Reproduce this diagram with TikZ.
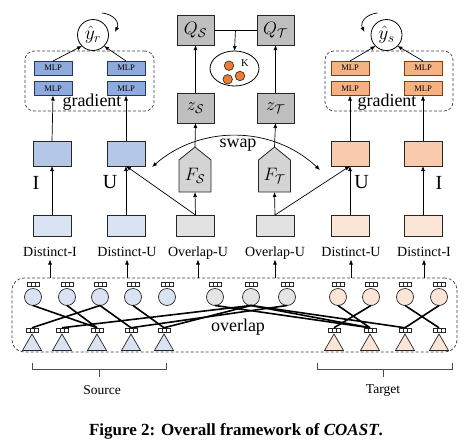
\RequirePackage{fix-cm}
\documentclass[tikz,border=0pt]{standalone}
\usepackage{fontspec}
\setmainfont{Liberation Serif}
\usetikzlibrary{arrows.meta,calc,shapes.geometric}
\definecolor{mlpB}{HTML}{8FAADC}
\definecolor{mlpBd}{HTML}{203864}
\definecolor{boxB}{HTML}{B4C7E7}
\definecolor{lightB}{HTML}{DAE3F3}
\definecolor{mlpO}{HTML}{F4B183}
\definecolor{mlpOd}{HTML}{843C0C}
\definecolor{boxO}{HTML}{F8CBAD}
\definecolor{lightO}{HTML}{FBE5D6}
\definecolor{grayQ}{HTML}{BFBFBF}
\definecolor{grayF}{HTML}{D4D4D4}
\definecolor{grayO}{HTML}{E2E2E2}
\definecolor{grayC}{HTML}{E4E4E4}
\definecolor{dotO}{HTML}{ED7D31}
\begin{document}
\begin{tikzpicture}[x=1pt,y=-1pt,
  every node/.style={inner sep=0pt,outer sep=0pt},
  arr/.style={-{Latex[length=5pt,width=4pt]}, line width=0.7pt},
  arrboth/.style={{Latex[length=5pt,width=4pt]}-{Latex[length=5pt,width=4pt]}, line width=0.7pt},
  mlpb/.style={draw=mlpBd, fill=mlpB, line width=0.9pt, minimum width=38pt, minimum height=14pt, font=\fontsize{8.5}{9}\selectfont},
  mlpo/.style={draw=mlpOd, fill=mlpO, line width=0.9pt, minimum width=38pt, minimum height=14pt, font=\fontsize{8.5}{9}\selectfont},
  dashbox/.style={draw=black!75, dash pattern=on 3pt off 2pt, rounded corners=9pt, line width=0.7pt},
  bigbox/.style={draw=black!85, line width=0.8pt, minimum width=38pt, minimum height=25pt},
  smallbox/.style={draw=black!85, line width=0.8pt, minimum width=38pt, minimum height=21pt},
  gbox/.style={draw=black!85, fill=grayQ, line width=0.8pt, minimum width=37pt, minimum height=30pt, font=\fontsize{18}{20}\selectfont},
  labtxt/.style={font=\fontsize{14}{16}\selectfont, text height=10pt, text depth=3pt},
  bigtxt/.style={font=\fontsize{20}{22}\selectfont},
  gradtxt/.style={font=\fontsize{18}{20}\selectfont},
  mathtxt/.style={font=\fontsize{18}{20}\selectfont},
  yhat/.style={circle, draw=black, line width=0.8pt, minimum size=31pt, font=\fontsize{19.5}{22}\selectfont},
  usercirc/.style={circle, draw=black!85, line width=0.7pt, minimum size=17pt},
  itemtri/.style={regular polygon, regular polygon sides=3, draw=black!85, line width=0.7pt, minimum size=22pt},
  emb/.style={draw=black!85, fill=white, line width=0.5pt, minimum width=12pt, minimum height=4.5pt,
    path picture={\draw[line width=0.5pt]
      ($(path picture bounding box.north west)!0.3333!(path picture bounding box.north east)$) --
      ($(path picture bounding box.south west)!0.3333!(path picture bounding box.south east)$)
      ($(path picture bounding box.north west)!0.6667!(path picture bounding box.north east)$) --
      ($(path picture bounding box.south west)!0.6667!(path picture bounding box.south east)$);}},
  linkline/.style={line width=1.6pt, black},
  brace/.style={draw=black!70, line width=0.6pt},
]
\fill[white] (0,0) rectangle (474,445);
\useasboundingbox (0,0) rectangle (474,445);

% ---------- top: predictors ----------
\node[dashbox, minimum width=129pt, minimum height=60pt] (gL) at (89.5,81) {};
\node[dashbox, minimum width=128pt, minimum height=60pt] (gR) at (389,81) {};
\node[mlpb] (LA1) at (53,68) {MLP};
\node[mlpb] (LA2) at (53,88.5) {MLP};
\node[mlpb] (LB1) at (126,68) {MLP};
\node[mlpb] (LB2) at (126,88.5) {MLP};
\node[mlpo] (RA1) at (350,68) {MLP};
\node[mlpo] (RA2) at (350,88.5) {MLP};
\node[mlpo] (RB1) at (423,68) {MLP};
\node[mlpo] (RB2) at (423,88.5) {MLP};
\node[gradtxt] (gtL) at (92,102.5) {gradient};
\node[gradtxt] (gtR) at (387,102.5) {gradient};
\node[yhat] (yr) at (93,35) {$\hat{y}_r$};
\node[yhat] (ys) at (386.5,35) {$\hat{y}_s$};
\draw[arr] (LA1.north) -- (yr.south west);
\draw[arr] (LB1.north) -- (yr.south east);
\draw[arr] (RA1.north) -- (ys.south west);
\draw[arr] (RB1.north) -- (ys.south east);
\draw[arr] ($(yr)+(9,-22)$) .. controls ($(yr)+(20,-21)$) and ($(yr)+(27,-13)$) .. ($(yr)+(22,-3)$);
\draw[arr] ($(ys)+(-9,-22)$) .. controls ($(ys)+(-20,-21)$) and ($(ys)+(-27,-13)$) .. ($(ys)+(-22,-3)$);

% ---------- representation boxes ----------
\node[bigbox, fill=boxB] (IL) at (52,153.5) {};
\node[bigbox, fill=boxB] (UL) at (126,153.5) {};
\node[bigbox, fill=boxO] (UR) at (350,153.5) {};
\node[bigbox, fill=boxO] (IR) at (423,153.5) {};
\draw[arr] (IL.north) -- (LA2.south);
\draw[arr] (UL.north) -- (LB2.south);
\draw[arr] (UR.north) -- (RA2.south);
\draw[arr] (IR.north) -- (RB2.south);
\node[bigtxt] (tIL) at (36,182.5) {I};
\node[bigtxt] (tUL) at (110,182.5) {U};
\node[bigtxt] (tUR) at (361.5,182.5) {U};
\node[bigtxt] (tIR) at (439,182.5) {I};

% ---------- input embeddings ----------
\node[smallbox, fill=lightB] (DIL) at (52,225.5) {};
\node[smallbox, fill=lightB] (DUL) at (126,225.5) {};
\node[smallbox, fill=grayO] (OS) at (195.5,225.5) {};
\node[smallbox, fill=grayO] (OT) at (275,225.5) {};
\node[smallbox, fill=lightO] (DUR) at (350,225.5) {};
\node[smallbox, fill=lightO] (DIR) at (423,225.5) {};
\node[labtxt] (lDIL) at (50,253) {Distinct-I};
\node[labtxt] (lDUL) at (127,253) {Distinct-U};
\node[labtxt] (lOS) at (198,253) {Overlap-U};
\node[labtxt] (lOT) at (275,253) {Overlap-U};
\node[labtxt] (lDUR) at (351,253) {Distinct-U};
\node[labtxt] (lDIR) at (424,253) {Distinct-I};
\draw[arr] (DIL.north) -- (IL.south);
\draw[arr] (DUL.north) -- (UL.south);
\draw[arr] (OS.north) -- (UL.south);
\draw[arr] (OT.north) -- (UR.south);
\draw[arr] (DUR.north) -- (UR.south);
\draw[arr] (DIR.north) -- (IR.south);

% ---------- F encoders ----------
\coordinate (FSc) at (195,176);
\coordinate (FTc) at (274.5,176);
\foreach \c in {FSc,FTc}{
  \draw[fill=grayF, draw=black!85, line width=0.8pt]
    ($(\c)+(-16,16)$) -- ($(\c)+(-16,-16)$) -- ($(\c)+(0,-29)$) -- ($(\c)+(16,-16)$) -- ($(\c)+(16,16)$) -- cycle;
}
\node[mathtxt, minimum width=32pt, minimum height=32pt] (FS) at (FSc) {$F_{\mathcal{S}}$};
\node[mathtxt, minimum width=32pt, minimum height=32pt] (FT) at (FTc) {$F_{\mathcal{T}}$};
\coordinate (FSa) at ($(FS.north)+(0,-13)$);
\coordinate (FTa) at ($(FT.north)+(0,-13)$);
\draw[arr] (OS.north) -- (FS.south);
\draw[arr] (OT.north) -- (FT.south);

% ---------- z, Q, clusters ----------
\node[gbox] (zS) at (195.5,108) {$z_{\mathcal{S}}$};
\node[gbox] (zT) at (275.5,108) {$z_{\mathcal{T}}$};
\node[gbox] (QS) at (195.5,30) {$Q_{\mathcal{S}}$};
\node[gbox] (QT) at (275.5,30) {$Q_{\mathcal{T}}$};
\draw[arr] (FSa) -- (zS.south);
\draw[arr] (FTa) -- (zT.south);
\draw[arr] (zS.north) -- (QS.south);
\draw[arr] (zT.north) -- (QT.south);
\node[ellipse, draw=black, line width=0.8pt, fill=white, minimum width=49pt, minimum height=35pt] (ell) at (234.5,68.5) {};
\draw[line width=0.7pt] (QS.east) -- (QT.west);
\coordinate (Qmid) at ($(QS.east)!0.5!(QT.west)$);
\draw[arr] (Qmid) -- (ell.north);
\node[circle, draw=black!80, fill=dotO, line width=0.7pt, minimum size=9.5pt] (d1) at (229,65.7) {};
\node[circle, draw=black!80, fill=dotO, line width=0.7pt, minimum size=9.5pt] (d2) at (227.7,79.3) {};
\node[circle, draw=black!80, fill=dotO, line width=0.7pt, minimum size=9.5pt] (d3) at (240,76) {};
\node[font=\fontsize{10.5}{12}\selectfont] (kK) at (245,63.5) {K};

% ---------- swap ----------
\coordinate (swL) at (152,167);
\coordinate (swR) at (320,170);
\draw[arrboth] (swL) .. controls (200,125) and (272,125) .. (swR);
\node[gradtxt] (swap) at (238,145) {swap};

% ---------- bottom graph ----------
\node[dashbox, rounded corners=12pt, minimum width=445pt, minimum height=74pt] (bot) at (234.5,315) {};
\foreach \n in {lDIL,lDUL,lOS,lOT,lDUR,lDIR}{
  \draw[arr] (\n.south |- bot.north) -- (\n.south);
}
\foreach \x/\c [count=\i] in {33/lightB,67/lightB,100/lightB,133/lightB,167/lightB,215/grayC,251/grayC,287/grayC,338/lightO,371/lightO,405/lightO,439/lightO}{
  \node[usercirc, fill=\c] (u\i) at (\x,297) {};
  \node[emb] (eu\i) at (\x,284) {};
}
\foreach \x/\c [count=\i] in {32/lightB,62/lightB,97/lightB,131/lightB,164/lightB,334/lightO,370/lightO,405/lightO,439/lightO}{
  \node[itemtri, fill=\c] (t\i) at (\x,345) {};
  \node[emb] (ei\i) at (\x,330) {};
}
\foreach \a/\b in {1/3,2/3,3/1,3/4,4/5,7/2,8/4,7/5,6/7,7/7,7/8,9/7,10/6,11/9,12/8}{
  \draw[linkline] (u\a.south) -- (ei\b.north);
}
\node[gradtxt] (ovl) at (238,327) {overlap};

% ---------- braces ----------
\coordinate (sb1) at (32,363);
\coordinate (sb2) at (166,363);
\coordinate (sbm) at (99,377);
\draw[brace] (sb1) -- (sb1 |- 0,369) -- (sb2 |- 0,369) -- (sb2);
\draw[brace] (sbm |- 0,369) -- (sbm);
\coordinate (tb1) at (317,363);
\coordinate (tb2) at (452,363);
\coordinate (tbm) at (383,377);
\draw[brace] (tb1) -- (tb1 |- 0,369) -- (tb2 |- 0,369) -- (tb2);
\draw[brace] (tbm |- 0,369) -- (tbm);
\node[font=\fontsize{13.5}{15}\selectfont] (src) at (102,390) {Source};
\node[font=\fontsize{13.5}{15}\selectfont] (tgt) at (383,391) {Target};

% ---------- caption ----------
\node[font=\fontsize{17}{20}\selectfont\bfseries] (cap) at (236,431) {Figure 2: Overall framework of \textit{COAST}.};
\end{tikzpicture}
\end{document}
